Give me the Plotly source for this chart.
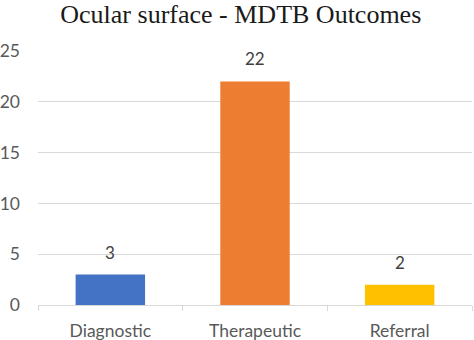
import plotly.graph_objects as go

categories = ["Diagnostic", "Therapeutic", "Referral"]
counts = [3, 22, 2]
bar_colors = ["#4472C4", "#ED7D31", "#FFC000"]
y_ticks = [0, 5, 10, 15, 20, 25]

label_font = dict(family="Lato, Open Sans, sans-serif", size=17.5, color="#595959")

fig = go.Figure(
    go.Bar(
        x=categories,
        y=counts,
        marker=dict(color=bar_colors, line=dict(width=0)),
        width=0.48,
        hoverinfo="skip",
    )
)

# value labels above each bar
for cat, val in zip(categories, counts):
    fig.add_annotation(
        x=cat, y=val, text=str(val), showarrow=False,
        yanchor="bottom", yshift=10,
        font=dict(family="Lato, Open Sans, sans-serif", size=17, color="#404040"),
    )

fig.update_layout(
    width=474, height=340,
    margin=dict(l=38, r=2, t=51, b=35),
    paper_bgcolor="white", plot_bgcolor="white",
    title=dict(
        text="Ocular surface - MDTB Outcomes",
        x=0.508, xanchor="center", y=0.985, yanchor="top",
        font=dict(family="Liberation Serif, Times New Roman, serif", size=26, color="#1a1a1a"),
    ),
    showlegend=False,
    xaxis=dict(
        showline=True, linecolor="#D9D9D9", linewidth=1,
        ticks="outside", tickson="boundaries", ticklen=5, tickcolor="#D9D9D9",
        ticklabelstandoff=10,
        tickfont=label_font,
        showgrid=False, fixedrange=True, automargin=False,
    ),
    yaxis=dict(
        range=[0, 25], tickvals=y_ticks,
        showgrid=True, gridcolor="#D9D9D9", gridwidth=1,
        zeroline=False, showline=False, ticks="",
        ticklabelstandoff=17,
        tickfont=label_font,
        fixedrange=True, automargin=False,
    ),
)

fig.write_html("out.html")
